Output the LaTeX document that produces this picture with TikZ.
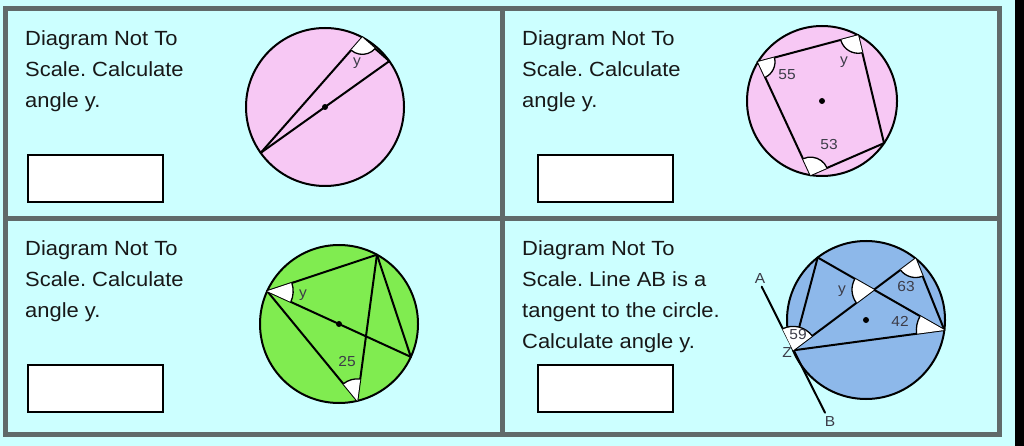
\documentclass[tikz,border=0pt]{standalone}
\usepackage{fontspec}
\setmainfont{Liberation Sans}[FakeStretch=1.07]
\usetikzlibrary{angles,calc}
\definecolor{bg}{RGB}{204,255,255}
\definecolor{framec}{RGB}{96,106,106}
\definecolor{pinkf}{RGB}{247,200,244}
\definecolor{greenf}{RGB}{128,236,80}
\definecolor{bluef}{RGB}{141,184,234}
\definecolor{txt}{RGB}{24,24,24}
\definecolor{lbl}{RGB}{60,60,72}
\frenchspacing
\begin{document}
\begin{tikzpicture}[x=1pt,y=1pt,
  qtext/.style={anchor=base west, inner sep=0pt, font=\fontsize{20.5}{24}\selectfont, text=txt},
  ansbox/.style={draw=black, line width=1.8pt, fill=white},
  disc/.style={draw=black, line width=2pt},
  chord/.style={draw=black, line width=2pt, line cap=round},
  angmark/.style={draw=black, line width=1.3pt, fill=white},
  lab/.style={font=\fontsize{14.5}{17}\selectfont, text=lbl, inner sep=0pt},
  framel/.style={draw=framec, line width=5pt}
]
\useasboundingbox (0,0) rectangle (1024,-446);
\fill[bg] (0,0) rectangle (1024,-446);
\fill[black] (1015,0) rectangle (1024,-446);

% frame
\draw[framel] (5.5,-9) rectangle (999,-434);
\draw[framel] (502.5,-9) -- (502.5,-434);
\draw[framel] (5.5,-219) -- (999,-219);

% texts
\node[qtext] (t1a) at (25,-45.5) {Diagram Not To};
\node[qtext] (t1b) at (25,-76.5) {Scale. Calculate};
\node[qtext] (t1c) at (25,-107.5) {angle y.};
\node[qtext] (t2a) at (522,-45.5) {Diagram Not To};
\node[qtext] (t2b) at (522,-76.5) {Scale. Calculate};
\node[qtext] (t2c) at (522,-107.5) {angle y.};
\node[qtext] (t3a) at (25,-255.5) {Diagram Not To};
\node[qtext] (t3b) at (25,-286.5) {Scale. Calculate};
\node[qtext] (t3c) at (25,-317.5) {angle y.};
\node[qtext] (t4a) at (522,-255.5) {Diagram Not To};
\node[qtext] (t4b) at (522,-286.5) {Scale. Line AB is a};
\node[qtext] (t4c) at (522,-317.5) {tangent to the circle.};
\node[qtext] (t4d) at (522,-348.5) {Calculate angle y.};

% answer boxes
\draw[ansbox] (28,-155) rectangle (163,-202);
\draw[ansbox] (538,-155) rectangle (673,-202);
\draw[ansbox] (28,-365) rectangle (163,-412);
\draw[ansbox] (538,-365) rectangle (673,-412);

% ---------- circle 1 ----------
\coordinate (c1) at (325,-107);
\draw[disc, fill=pinkf] (c1) circle[radius=79pt];
\coordinate (p1) at ($(c1)+(215.5:79)$);
\coordinate (q1) at ($(c1)+(61.8:79)$);
\coordinate (r1) at ($(c1)+(35.5:79)$);
\draw[chord] (p1) -- (q1);
\draw[chord] (p1) -- (r1);
\draw[chord] (q1) -- (r1);
\pic[angmark, angle radius=17pt] {angle = p1--q1--r1};
\fill (c1) circle[radius=3pt];
\node[lab] (y1) at (357,-63) {y};

% ---------- circle 2 ----------
\coordinate (c2) at (822,-101);
\draw[disc, fill=pinkf] (c2) circle[radius=75pt];
\coordinate (a2) at ($(c2)+(148.6:75)$);
\coordinate (b2) at ($(c2)+(61.2:75)$);
\coordinate (k2) at ($(c2)+(-34.2:75)$);
\coordinate (d2) at ($(c2)+(261.2:75)$);
\draw[chord] (a2) -- (b2) -- (k2) -- (d2) -- cycle;
\pic[angmark, angle radius=17pt] {angle = d2--a2--b2};
\pic[angmark, angle radius=18pt] {angle = a2--b2--k2};
\pic[angmark, angle radius=18pt] {angle = k2--d2--a2};
\fill (c2) circle[radius=3pt];
\node[lab] (l55) at (787,-75) {55};
\node[lab] (y2) at (844,-62) {y};
\node[lab] (l53) at (829,-145) {53};

% ---------- circle 3 ----------
\coordinate (c3) at (339,-324);
\draw[disc, fill=greenf] (c3) circle[radius=79pt];
\coordinate (e1) at ($(c3)+(155.4:79)$);
\coordinate (e2) at ($(c3)+(61.3:79)$);
\coordinate (e3) at ($(c3)+(-24.6:79)$);
\coordinate (e4) at ($(c3)+(-76.6:79)$);
\draw[chord] (e1) -- (e2);
\draw[chord] (e1) -- (e3);
\draw[chord] (e1) -- (e4);
\draw[chord] (e2) -- (e4);
\draw[chord] (e2) -- (e3);
\pic[angmark, angle radius=26pt] {angle = e3--e1--e2};
\pic[angmark, angle radius=22pt] {angle = e2--e4--e1};
\fill (c3) circle[radius=3pt];
\node[lab] (y3) at (303,-295) {y};
\node[lab] (l25) at (347,-362) {25};

% ---------- circle 4 ----------
\coordinate (c4) at (866,-320);
\draw[disc, fill=bluef] (c4) circle[radius=79pt];
\coordinate (z4) at ($(c4)+(202.6:79)$);
\coordinate (u1) at ($(c4)+(127.7:79)$);
\coordinate (u2) at ($(c4)+(51.1:79)$);
\coordinate (u3) at ($(c4)+(-7.3:79)$);
\coordinate (ta) at (761.7,-286.7);
\coordinate (tb) at (825,-412.7);
\coordinate (x4) at (intersection of u1--u3 and z4--u2);
\draw[chord] (z4) -- (u1);
\draw[chord] (z4) -- (u2);
\draw[chord] (z4) -- (u3);
\draw[chord] (u1) -- (u3);
\draw[chord] (u2) -- (u3);
\draw[chord] (ta) -- (tb);
\pic[angmark, angle radius=24pt] {angle = u2--z4--ta};
\pic[angmark, angle radius=22pt] {angle = u1--x4--z4};
\pic[angmark, angle radius=19pt] {angle = z4--u2--u3};
\pic[angmark, angle radius=28pt] {angle = u1--u3--z4};
\fill (c4) circle[radius=3pt];
\node[lab] (l59) at (798,-335) {59};
\node[lab] (y4) at (842,-291) {y};
\node[lab] (l63) at (906,-287) {63};
\node[lab] (l42) at (900,-321) {42};
\node[lab] (la) at (760,-279) {A};
\node[lab] (lb) at (830,-422) {B};
\node[lab] (lz) at (787,-353) {Z};
\end{tikzpicture}
\end{document}
